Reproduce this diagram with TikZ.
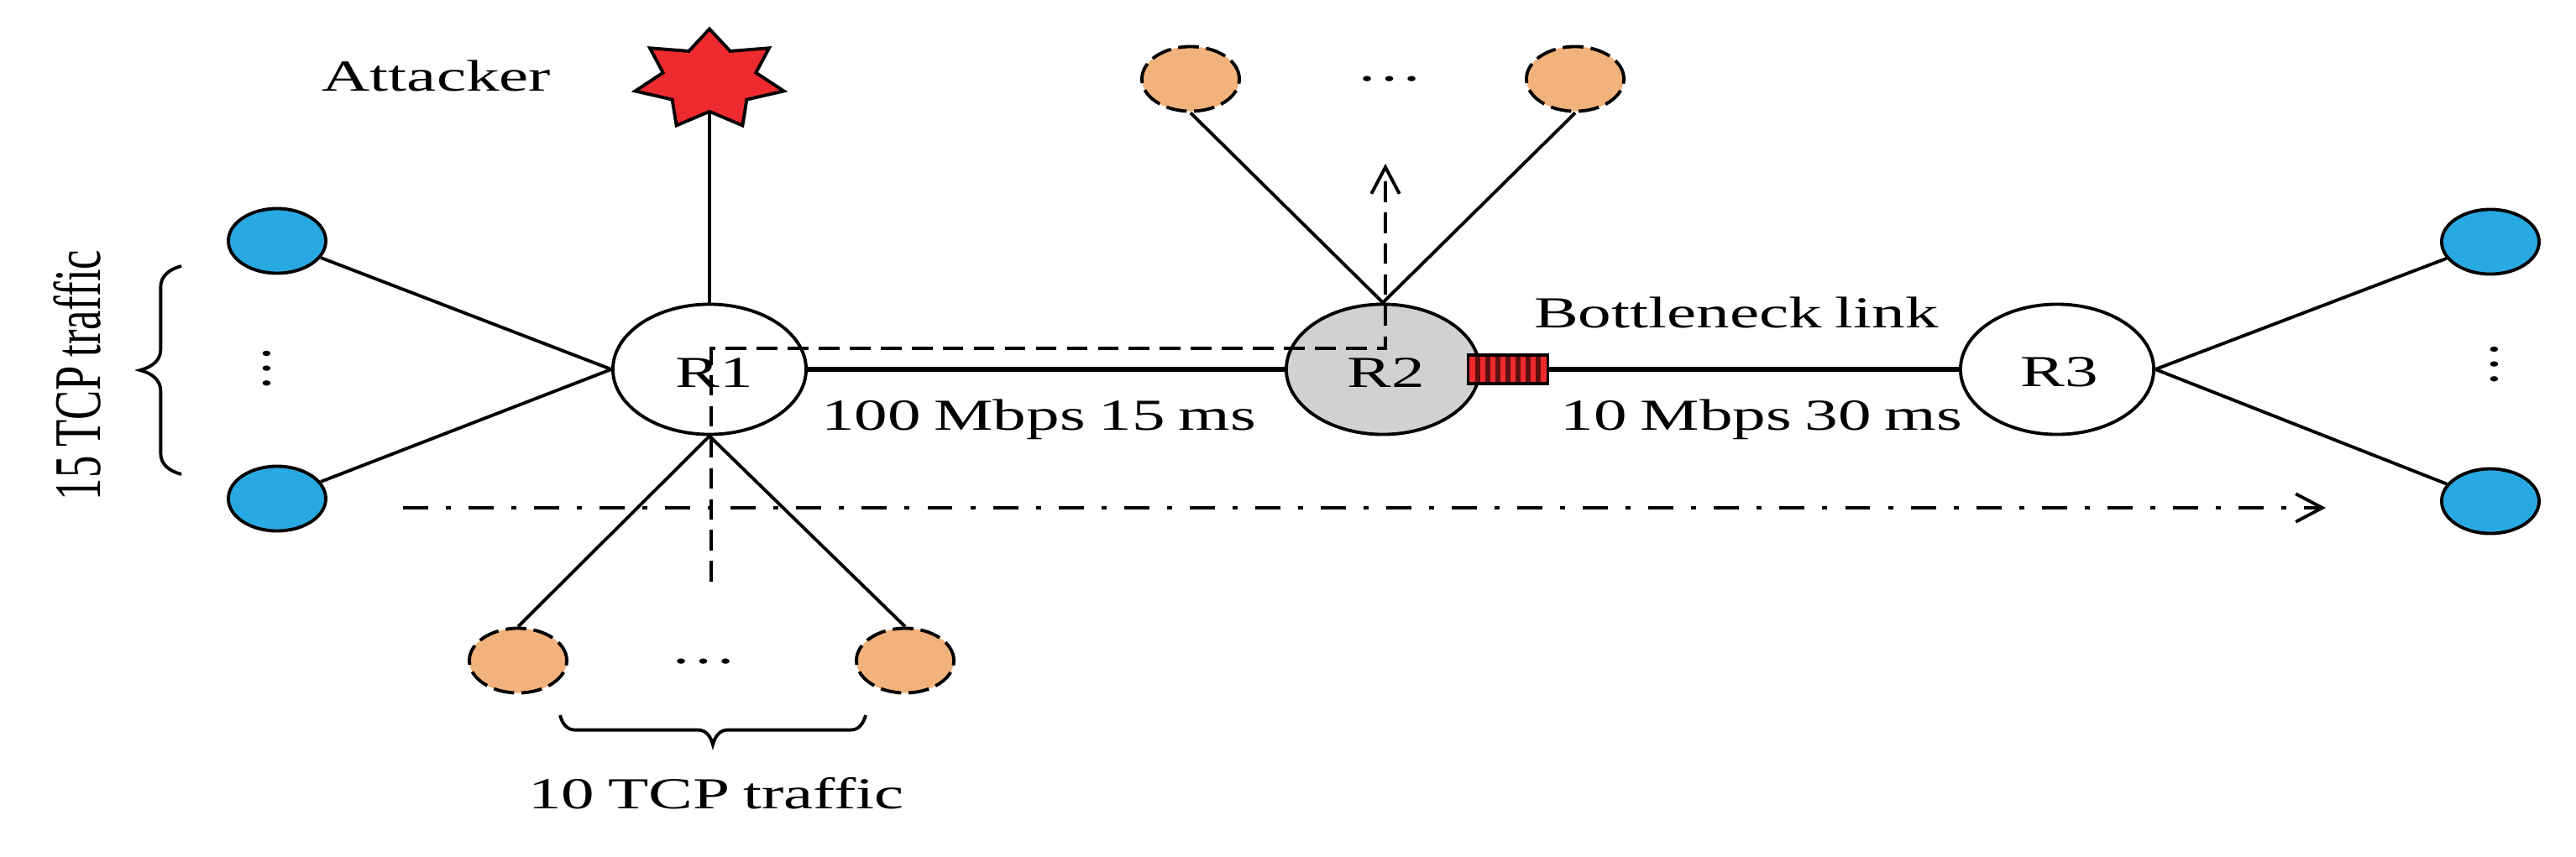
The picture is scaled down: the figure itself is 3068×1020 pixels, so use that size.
\documentclass[tikz,border=0pt]{standalone}
\usepackage{fontspec}
\setmainfont{Liberation Serif}[WordSpace=0.8]
\usepackage{tikz}
\usetikzlibrary{arrows.meta, shapes.geometric, decorations.pathreplacing}
\definecolor{hostblue}{HTML}{29A9E1}
\definecolor{hostpeach}{HTML}{F2B27B}
\definecolor{queuered}{HTML}{EE2A2E}

\begin{document}
\begin{tikzpicture}[x=0.01cm,y=-0.01cm,line width=1.1pt,
    wide/.style    = {xscale=1.5,transform shape},
    tag/.style     = {wide,font=\fontsize{15}{18}\selectfont,inner sep=0pt},
    router/.style  = {ellipse,draw,fill=white,minimum width=2.3cm,minimum height=1.55cm,inner sep=0pt},
    tcphost/.style = {ellipse,draw,fill=hostblue,minimum width=1.16cm,minimum height=.77cm,inner sep=0pt},
    udphost/.style = {ellipse,draw,dash pattern=on 7pt off 2.5pt,fill=hostpeach,minimum width=1.16cm,minimum height=.77cm,inner sep=0pt},
    backbone/.style = {line width=1.5pt},
    flow/.style    = {dash pattern=on 7pt off 3.5pt,-{Straight Barb[length=9pt,width=9.5pt]}},
    udpflow/.style = {dash pattern=on 8.5pt off 6pt on 1.7pt off 6pt,-{Straight Barb[length=9pt,width=9.5pt]}},
    curly/.style   = {decorate,decoration={brace,amplitude=#1,transform={yscale=2}}}
  ]
  \useasboundingbox (0,0) rectangle (3068,1020);

  % routers
  \node[router] (r1) at (845,440) {};
  \node[router,fill=black!18] (r2) at (1647,440) {};
  \node[router] (r3) at (2450,440) {};

  % attacker
  \node[star,star points=7,star point ratio=1.6,minimum size=1.21cm,inner sep=0pt,
        draw,fill=queuered,wide] (attacker) at (845,95) {};

  % hosts
  \node[tcphost] (s1) at (330,287) {};
  \node[tcphost] (s2) at (330,594) {};
  \node[tcphost] (d1) at (2966,288) {};
  \node[tcphost] (d2) at (2966,597) {};
  \node[udphost] (a1) at (617,787) {};
  \node[udphost] (a2) at (1078,787) {};
  \node[udphost] (b1) at (1418,94) {};
  \node[udphost] (b2) at (1876,94) {};

  % links
  \draw (attacker.inner point 4) -- (r1.north);
  \draw (s1) -- (r1.west);
  \draw (s2) -- (r1.west);
  \draw (a1.north) -- (r1.south);
  \draw (a2.north) -- (r1.south);
  \draw (b1.south) -- (r2.north);
  \draw (b2.south) -- (r2.north);
  \draw[backbone] (r1) -- (r2);
  \draw[backbone] (r2) -- (r3);
  \draw (r3.east) -- (d1);
  \draw (r3.east) -- (d2);

  % queue on the bottleneck
  \node[draw,fill=queuered,minimum width=.95cm,minimum height=.34cm,inner sep=0pt] (queue) at (1796,440) {};
  \foreach \x in {1760,1772,1784,1796,1808,1820,1832}
    \draw[line width=1.5pt,black!60!queuered] (\x,425) -- (\x,455);

  % flows
  \coordinate (tcpfrom) at (847,693);
  \coordinate (tcpbendA) at (847,415);
  \coordinate (tcpbendB) at (1650,415);
  \coordinate (tcpto) at (1650,195);
  \draw[flow] (tcpfrom) -- (tcpbendA) -- (tcpbendB) -- (tcpto);
  \coordinate (udpfrom) at (480,605);
  \coordinate (udpto) at (2770,605);
  \draw[udpflow] (udpfrom) -- (udpto);

  % braces
  \coordinate (braceLa) at (216,565);
  \coordinate (braceLb) at (216,317);
  \coordinate (braceBa) at (1031,852);
  \coordinate (braceBb) at (667,852);
  \draw[curly=7pt] (braceLa) -- (braceLb);
  \draw[curly=5pt] (braceBa) -- (braceBb);

  % labels
  \node[tag] (r1text) at (851,444) {R1};
  \node[tag] (r2text) at (1651,444) {R2};
  \node[tag] (r3text) at (2453,443) {R3};
  \node[tag] (attackertext) at (520,90) {Attacker};
  \node[tag] (neck) at (2068,372) {Bottleneck link};
  \node[tag] (fast) at (1237,500) {100 Mbps 15 ms};
  \node[tag] (slow) at (2098,500) {10 Mbps 30 ms};
  \node[tag] (bottomtext) at (853,945) {10 TCP traffic};
  \node[tag,rotate=90] (lefttext) at (92,447) {15 TCP traffic};
  \node[tag] (dotsA) at (838,788) {\dots};
  \node[tag] (dotsB) at (1655,94) {\dots};
  \node[tag,rotate=90] (dotsC) at (318,439) {\dots};
  \node[tag,rotate=90] (dotsD) at (2971,434) {\dots};
\end{tikzpicture}
\end{document}
